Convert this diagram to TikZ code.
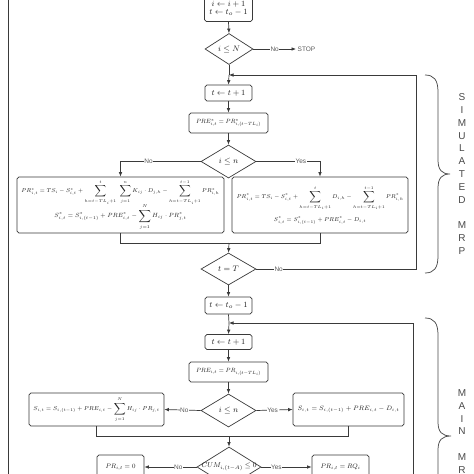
\documentclass[tikz,border=0pt]{standalone}
\usepackage{fontspec}
\usepackage{graphicx}
\setsansfont{Liberation Sans}
\usetikzlibrary{arrows.meta,shapes.geometric}
\definecolor{lc}{HTML}{3A3A3A}
\definecolor{tc}{HTML}{1E1E1E}
\definecolor{labc}{HTML}{5A5A5A}
\definecolor{brc}{HTML}{4A4A4A}
\newcommand{\fitw}[2]{\resizebox{#1}{!}{$\displaystyle #2$}}
\newcommand{\ssum}[2]{\sum\limits_{\scriptscriptstyle #1}^{\scriptscriptstyle #2}}
\begin{document}
\begin{tikzpicture}[x=1pt,y=-1pt,
  line/.style={draw=lc, line width=0.7pt},
  arr/.style={line, -{Latex[length=4.5pt,width=3.6pt]}},
  box/.style={draw=lc, line width=0.7pt, rounded corners=1.8pt, inner sep=1pt,
    font=\fontsize{8}{9}\selectfont, text=tc, align=center},
  fbox/.style={box, font=\fontsize{7}{8}\selectfont},
  dia/.style={draw=lc, line width=0.7pt, diamond, inner sep=0pt,
    font=\fontsize{8}{9}\selectfont, text=tc},
  lab/.style={font=\sffamily\fontsize{6.5}{7}\selectfont, text=labc, fill=white, inner sep=0.6pt},
  side/.style={font=\sffamily\fontsize{10}{12.8}\selectfont, text=brc, align=center},
  brace/.style={draw=brc, line width=0.75pt}
]
\useasboundingbox (0,0) rectangle (474,474);
\fill[white] (0,0) rectangle (474,474);
\clip (0,0) rectangle (474,474);

% ---------- SIMULATED MRP part ----------
\node[box, minimum width=48pt, minimum height=26pt] (top) at (228.5,8.5)
  {$i \leftarrow i+1$\\[-1.5pt]$t \leftarrow t_o - 1$};
\node[dia, minimum width=48pt, minimum height=31pt] (dN) at (229,49) {\makebox[0pt]{$i \le N$}};
\node[font=\sffamily\fontsize{6.5}{7}\selectfont, text=labc, anchor=west, inner sep=1.5pt] (stop) at (296,49) {STOP};
\coordinate (j1) at (229,75);
\node[box, minimum width=47pt, minimum height=16pt] (t1) at (228.5,93) {$t \leftarrow t+1$};
\node[box, minimum width=79pt, minimum height=20pt] (pres) at (228.5,123) {\fitw{65pt}{PRE^*_{i,t} = PR^*_{i,(t-TL_i)}}};
\node[dia, minimum width=55pt, minimum height=33pt] (dn1) at (228.5,161.5) {\makebox[0pt]{$i \le n$}};
\node[fbox, minimum width=207pt, minimum height=56pt] (simL) at (120.5,205)
  {\fitw{198pt}{PR^*_{i,t} = TS_i - S^*_{i,t} + \ssum{h=t-TL_i+1}{t}\ \ssum{j=1}{n} K_{ij}\cdot D_{j,h} - \ssum{h=t-TL_i+1}{t-1} PR^*_{i,h}}\\[-2pt]
   \fitw{132pt}{S^*_{i,t} = S^*_{i,(t-1)} + PRE^*_{i,t} - \ssum{j=1}{N} H_{ij}\cdot PR^*_{j,t}}};
\node[fbox, minimum width=176pt, minimum height=56pt] (simR) at (320,205)
  {\fitw{167pt}{PR^*_{i,t} = TS_i - S^*_{i,t} + \ssum{h=t-TL_i+1}{t} D_{i,h} - \ssum{h=t-TL_i+1}{t-1} PR^*_{i,h}}\\[5pt]
   \fitw{92pt}{S^*_{i,t} = S^*_{i,(t-1)} + PRE^*_{i,t} - D_{i,t}}};
\coordinate (m1) at (229,243);
\node[dia, minimum width=55pt, minimum height=32pt] (dT) at (228.5,269) {\makebox[0pt]{$t = T$}};
\coordinate (fb1) at (416,75);
\node[box, minimum width=47pt, minimum height=17pt] (t0) at (228.5,305.5) {$t \leftarrow t_o - 1$};

% ---------- MAIN MRP part ----------
\coordinate (j2) at (229,323);
\coordinate (fb2) at (413,323);
\coordinate (fb2b) at (413,490);
\node[box, minimum width=47pt, minimum height=15pt] (t2) at (228.5,342) {$t \leftarrow t+1$};
\node[box, minimum width=79pt, minimum height=20pt] (pre) at (228.5,372) {\fitw{65pt}{PRE_{i,t} = PR_{i,(t-TL_i)}}};
\node[dia, minimum width=55pt, minimum height=33pt] (dn2) at (228.5,410.5) {\makebox[0pt]{$i \le n$}};
\node[fbox, minimum width=135pt, minimum height=33pt] (mL) at (96.5,409.5)
  {\fitw{126pt}{S_{i,t} = S_{i,(t-1)} + PRE_{i,t} - \ssum{j=1}{N} H_{ij}\cdot PR_{j,t}}};
\node[fbox, minimum width=111pt, minimum height=33pt] (mR) at (348.5,409.5)
  {\fitw{102pt}{S_{i,t} = S_{i,(t-1)} + PRE_{i,t} - D_{i,t}}};
\coordinate (m2) at (229,436);
\node[dia, minimum width=64pt, minimum height=40pt] (dC) at (229,467) {\makebox[0pt]{\fitw{55pt}{CUM_{i,(t-A)} \le 0}}};
\node[box, minimum width=47pt, minimum height=30pt, text depth=8pt] (cL) at (120.5,470) {\fitw{30pt}{PR_{i,t} = 0}};
\node[box, minimum width=57pt, minimum height=30pt, text depth=8pt] (cR) at (340.5,470) {\fitw{40pt}{PR_{i,t} = RQ_i}};

% outer loop line
\coordinate (ot) at (8,-10);
\coordinate (ob) at (8,490);
\draw[line] (ot) -- (ob);

% ---------- connectors ----------
\draw[arr] (top.south) -- (dN.north);
\draw[arr] (dN.east) -- node[lab]{No} (stop.west);
\draw[line] (dN.south) -- (j1);
\draw[arr] (j1) -- (t1.north);
\draw[arr] (dT.east) -- node[lab, pos=0.14]{No} (dT.east -| fb1) -- (fb1) -- (j1);
\draw[arr] (t1.south) -- (pres.north);
\draw[arr] (pres.south) -- (dn1.north);
\draw[arr] (dn1.west) -- node[lab, pos=0.65]{No} (dn1.west -| simL.north) -- (simL.north);
\draw[arr] (dn1.east) -- node[lab, pos=0.7]{Yes} (dn1.east -| simR.north) -- (simR.north);
\draw[line] (simL.south) -- (simL.south |- m1) -- (simR.south |- m1) -- (simR.south);
\draw[arr] (m1) -- (dT.north);
\draw[arr] (dT.south) -- (t0.north);
\draw[line] (t0.south) -- (j2);
\draw[arr] (fb2b) -- (fb2) -- (j2);
\draw[arr] (j2) -- (t2.north);
\draw[arr] (t2.south) -- (pre.north);
\draw[arr] (pre.south) -- (dn2.north);
\draw[arr] (dn2.west) -- node[lab, pos=0.45]{No} (mL.east);
\draw[arr] (dn2.east) -- node[lab, pos=0.45]{Yes} (mR.west);
\draw[line] (mL.south) -- (mL.south |- m2) -- (mR.south |- m2) -- (mR.south);
\draw[arr] (m2) -- (dC.north);
\draw[arr] (dC.west) -- node[lab, pos=0.35]{No} (dC.west -| cL.east);
\draw[arr] (dC.east) -- node[lab, pos=0.3]{Yes} (dC.east -| cR.west);

% ---------- braces ----------
\coordinate (b1a) at (425,75);
\coordinate (b1t) at (450,174);
\coordinate (b1b) at (425,273);
\draw[brace] (b1a) .. controls (434,75) and (438,80) .. (438,92) -- (438,160)
  .. controls (438,170) and (442,174) .. (b1t)
  .. controls (442,174) and (438,178) .. (438,188) -- (438,256)
  .. controls (438,268) and (434,273) .. (b1b);
\node[side] (simtxt) at (462,174) {S\\I\\M\\U\\L\\A\\T\\E\\D\\\mbox{}\\M\\R\\P};

\coordinate (b2a) at (425,318);
\coordinate (b2t) at (451,436);
\coordinate (b2b) at (425,554);
\draw[brace] (b2a) .. controls (434,318) and (438,323) .. (438,335) -- (438,422)
  .. controls (438,432) and (442,436) .. (b2t)
  .. controls (442,436) and (438,440) .. (438,450) -- (438,540)
  .. controls (438,550) and (434,554) .. (b2b);
\node[side, anchor=north] (maintxt) at (462,386) {M\\A\\I\\N\\\mbox{}\\M\\R\\P};
\end{tikzpicture}
\end{document}
